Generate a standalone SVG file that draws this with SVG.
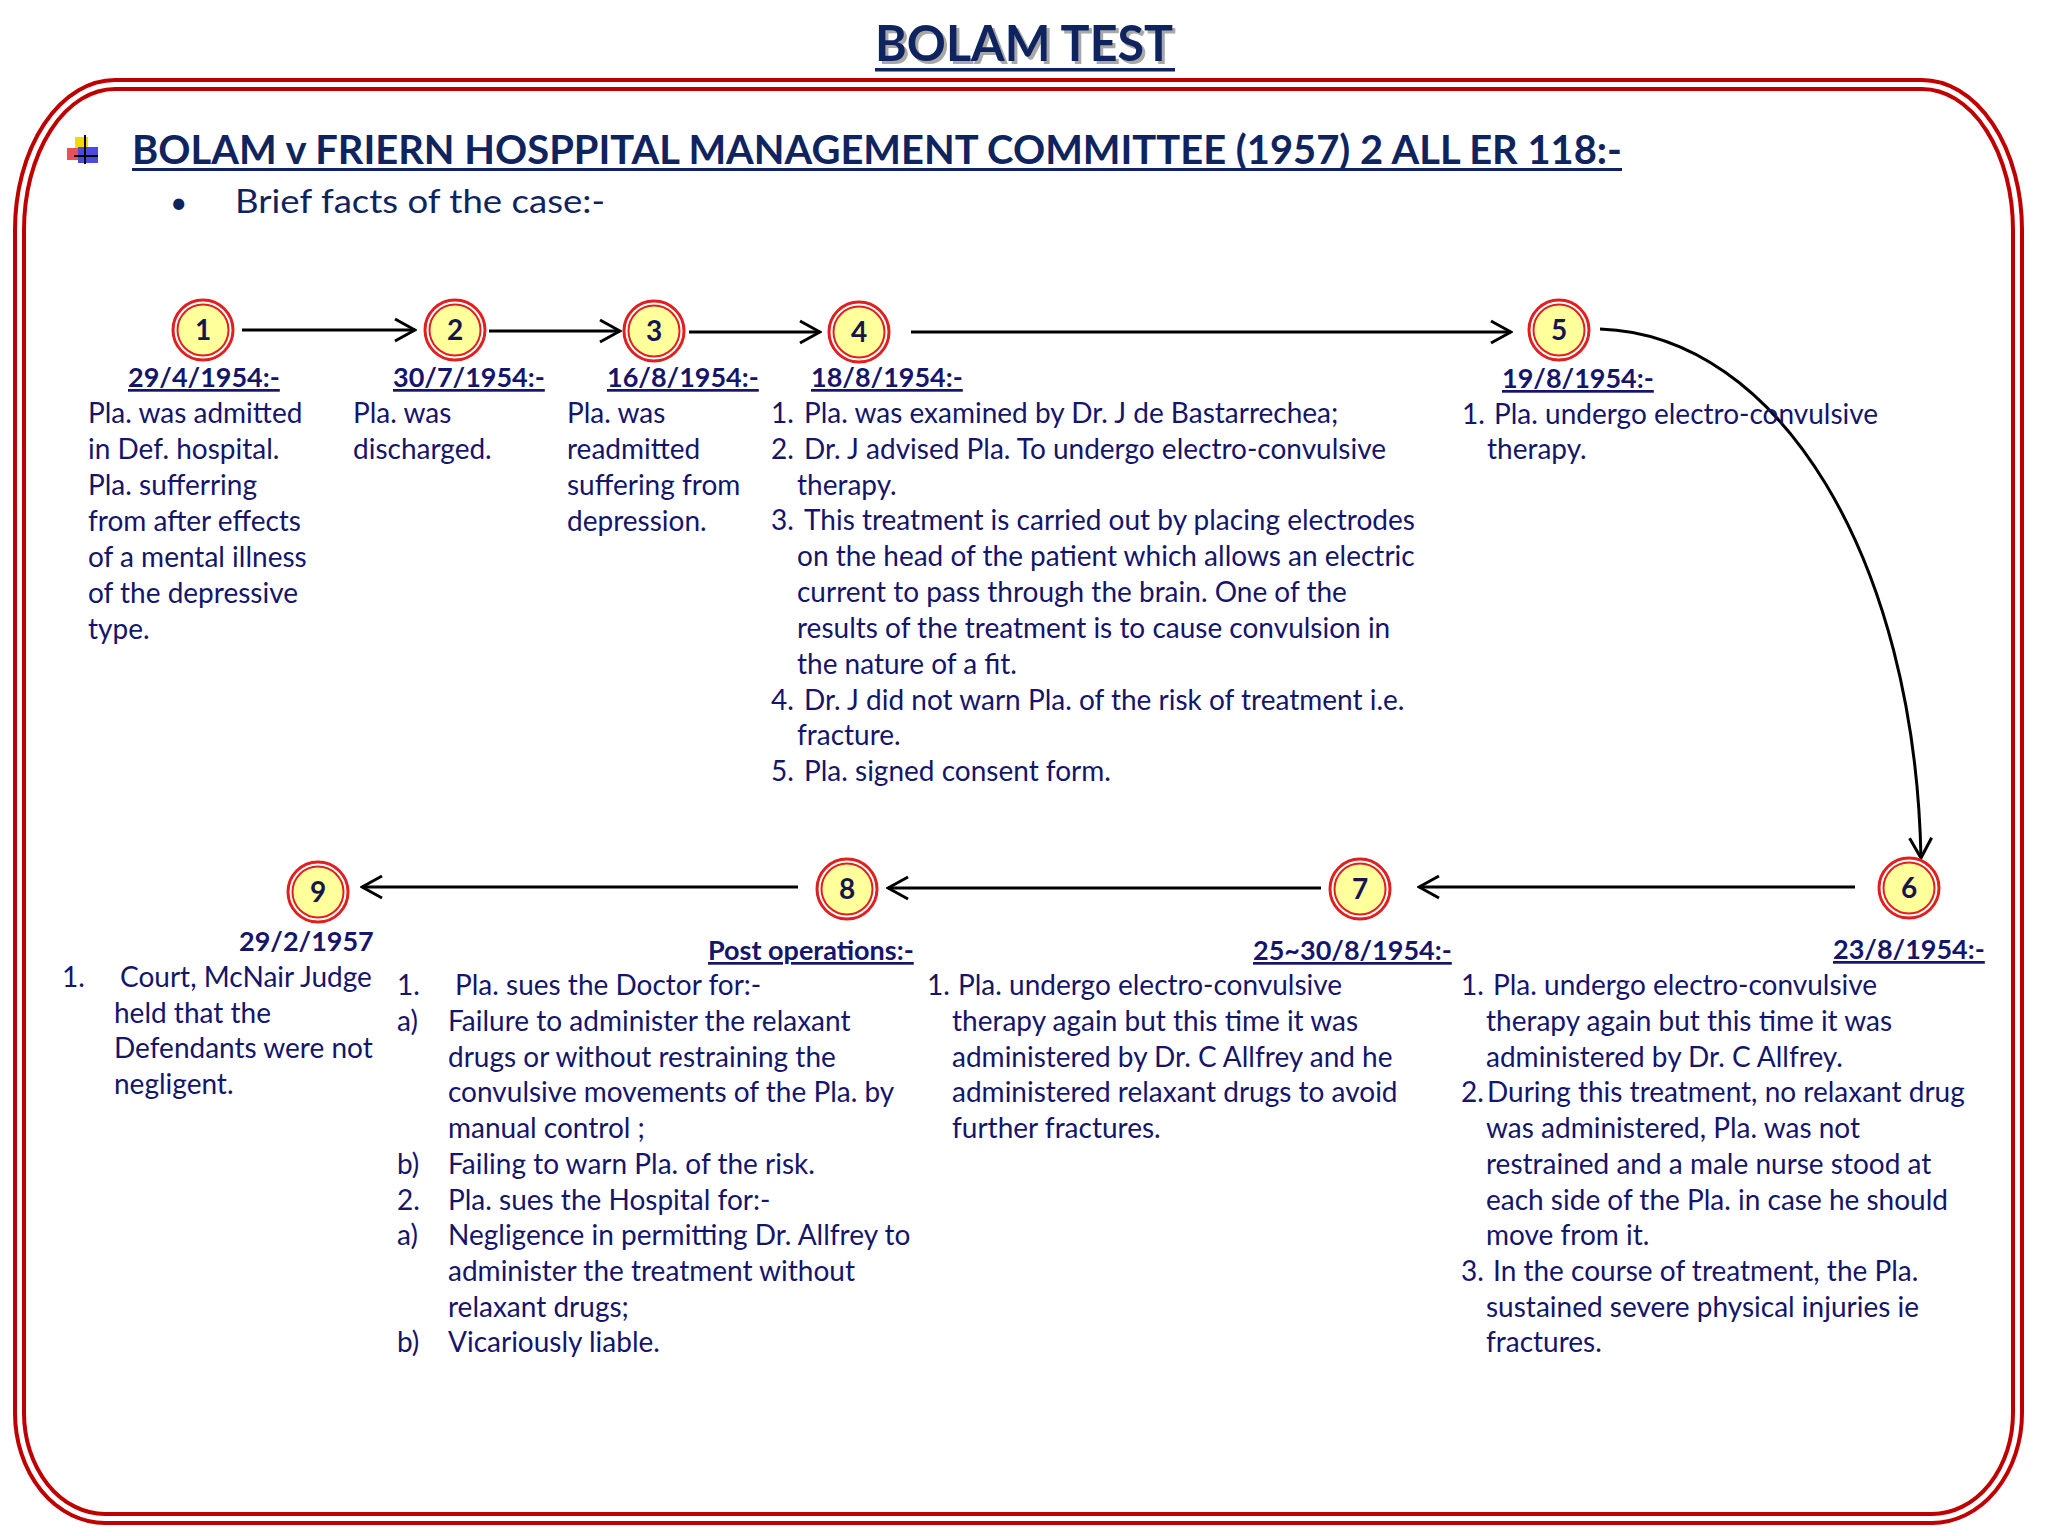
<svg xmlns="http://www.w3.org/2000/svg" width="2048" height="1536" viewBox="0 0 2048 1536">
<defs>
<style>
.t{font-family:Lato,'Liberation Sans',sans-serif;font-size:28px;fill:#15156B}
.d{font-weight:bold;font-size:27px;text-decoration:underline}
.db{font-weight:bold;font-size:27px}
.n{font-family:Lato,'Liberation Sans',sans-serif;font-weight:bold;font-size:28px;fill:#16164F;text-anchor:middle}
.ring{fill:#FFFFFF;stroke:#E21F1F;stroke-width:3}
.core{fill:#FFFF9C;stroke:#E21F1F;stroke-width:2}
.frame{fill:none;stroke:#C00000;stroke-width:4}
.conn{fill:none;stroke:#000000;stroke-width:3}
.hd{font-family:Lato,'Liberation Sans',sans-serif;fill:#0F245F}
</style>
<marker id="arr" viewBox="0 0 24 26" refX="22" refY="13" markerWidth="24" markerHeight="26" markerUnits="userSpaceOnUse" orient="auto">
<path d="M2,2 L22,13 L2,24" fill="none" stroke="#000" stroke-width="3"/>
</marker>
</defs>
<rect width="2048" height="1536" fill="#FFFFFF"/>

<g id="frame">
<path class="frame" d="M115,80 H1922 A100,150 0 0 1 2022,230 V1413 A90,110 0 0 1 1932,1523 H105 A90,110 0 0 1 15,1413 V230 A100,150 0 0 1 115,80 Z"/>
<path class="frame" d="M115,89 H1922 A91,141 0 0 1 2013,230 V1413 A81,101 0 0 1 1932,1514 H105 A81,101 0 0 1 24,1413 V230 A91,141 0 0 1 115,89 Z"/>
</g>

<g id="title">
<text x="1027" y="64" class="hd" font-size="50" font-weight="bold" text-anchor="middle" style="fill:#A8A8A8" textLength="298" lengthAdjust="spacingAndGlyphs">BOLAM TEST</text>
<text x="1024" y="61" class="hd" font-size="50" font-weight="bold" text-anchor="middle" textLength="298" lengthAdjust="spacingAndGlyphs">BOLAM TEST</text>
<rect x="875" y="68" width="300" height="3.5" fill="#0F245F"/>
</g>

<g id="heading">
<rect x="75" y="137" width="13" height="13" fill="#F5D800"/>
<rect x="67" y="148" width="12" height="12" fill="#E8505A"/>
<rect x="78" y="147" width="20" height="16" fill="#4A4AE0"/>
<line x1="85" y1="135" x2="85" y2="164" stroke="#000" stroke-width="2"/>
<line x1="74" y1="156" x2="98" y2="156" stroke="#000" stroke-width="2"/>
<text x="132" y="164" class="hd" font-size="40" font-weight="bold" textLength="1490" lengthAdjust="spacingAndGlyphs">BOLAM v FRIERN HOSPPITAL MANAGEMENT COMMITTEE (1957) 2 ALL ER 118:-</text>
<rect x="132" y="168" width="1490" height="3" fill="#0F245F"/>
<text x="170" y="213" class="hd" font-size="30">•</text>
<text x="235" y="213" class="hd" font-size="33" textLength="370" lengthAdjust="spacingAndGlyphs">Brief facts of the case:-</text>
</g>

<g id="connectors">
<path class="conn" marker-end="url(#arr)" d="M242,330 H415"/>
<path class="conn" marker-end="url(#arr)" d="M489,331 H620"/>
<path class="conn" marker-end="url(#arr)" d="M689,332 H820"/>
<path class="conn" marker-end="url(#arr)" d="M911,332 H1511"/>
<path class="conn" marker-end="url(#arr)" d="M1600,329 C1780,335 1915,560 1921,858"/>
<path class="conn" marker-end="url(#arr)" d="M1855,887 H1419"/>
<path class="conn" marker-end="url(#arr)" d="M1321,888 H888"/>
<path class="conn" marker-end="url(#arr)" d="M798,887 H362"/>
</g>

<g id="node1">
<circle class="ring" cx="203" cy="330" r="30"/><circle class="core" cx="203" cy="330" r="25.5"/>
<text class="n" x="203" y="340">1</text>
<text class="t d" x="128" y="387">29/4/1954:-</text>
<text class="t" x="88" y="423">Pla. was admitted</text>
<text class="t" x="88" y="459">in Def. hospital.</text>
<text class="t" x="88" y="495">Pla. sufferring</text>
<text class="t" x="88" y="531">from after effects</text>
<text class="t" x="88" y="567">of a mental illness</text>
<text class="t" x="88" y="603">of the depressive</text>
<text class="t" x="88" y="639">type.</text>
</g>

<g id="node2">
<circle class="ring" cx="455" cy="330" r="30"/><circle class="core" cx="455" cy="330" r="25.5"/>
<text class="n" x="455" y="340">2</text>
<text class="t d" x="393" y="387">30/7/1954:-</text>
<text class="t" x="353" y="423">Pla. was</text>
<text class="t" x="353" y="459">discharged.</text>
</g>

<g id="node3">
<circle class="ring" cx="654" cy="331" r="30"/><circle class="core" cx="654" cy="331" r="25.5"/>
<text class="n" x="654" y="341">3</text>
<text class="t d" x="607" y="387">16/8/1954:-</text>
<text class="t" x="567" y="423">Pla. was</text>
<text class="t" x="567" y="459">readmitted</text>
<text class="t" x="567" y="495">suffering from</text>
<text class="t" x="567" y="531">depression.</text>
</g>

<g id="node4">
<circle class="ring" cx="859" cy="332" r="30"/><circle class="core" cx="859" cy="332" r="25.5"/>
<text class="n" x="859" y="342">4</text>
<text class="t d" x="811" y="387">18/8/1954:-</text>
<text class="t" x="771" y="423">1.</text><text class="t" x="804" y="423">Pla. was examined by Dr. J de Bastarrechea;</text>
<text class="t" x="771" y="459">2.</text><text class="t" x="804" y="459">Dr. J advised Pla. To undergo electro-convulsive</text>
<text class="t" x="797" y="495">therapy.</text>
<text class="t" x="771" y="530">3.</text><text class="t" x="804" y="530">This treatment is carried out by placing electrodes</text>
<text class="t" x="797" y="566">on the head of the patient which allows an electric</text>
<text class="t" x="797" y="602">current to pass through the brain. One of the</text>
<text class="t" x="797" y="638">results of the treatment is to cause convulsion in</text>
<text class="t" x="797" y="674">the nature of a fit.</text>
<text class="t" x="771" y="710">4.</text><text class="t" x="804" y="710">Dr. J did not warn Pla. of the risk of treatment i.e.</text>
<text class="t" x="797" y="745">fracture.</text>
<text class="t" x="771" y="781">5.</text><text class="t" x="804" y="781">Pla. signed consent form.</text>
</g>

<g id="node5">
<circle class="ring" cx="1559" cy="330" r="30"/><circle class="core" cx="1559" cy="330" r="25.5"/>
<text class="n" x="1559" y="340">5</text>
<text class="t d" x="1502" y="388">19/8/1954:-</text>
<text class="t" x="1462" y="424">1.</text><text class="t" x="1494" y="424">Pla. undergo electro-convulsive</text>
<text class="t" x="1487" y="459">therapy.</text>
</g>

<g id="node6">
<circle class="ring" cx="1909" cy="888" r="30"/><circle class="core" cx="1909" cy="888" r="25.5"/>
<text class="n" x="1909" y="898">6</text>
<text class="t d" x="1833" y="959">23/8/1954:-</text>
<text class="t" x="1461" y="995">1.</text><text class="t" x="1493" y="995">Pla. undergo electro-convulsive</text>
<text class="t" x="1486" y="1031">therapy again but this time it was</text>
<text class="t" x="1486" y="1067">administered by Dr. C Allfrey.</text>
<text class="t" x="1461" y="1102">2.</text><text class="t" x="1487" y="1102">During this treatment, no relaxant drug</text>
<text class="t" x="1486" y="1138">was administered, Pla. was not</text>
<text class="t" x="1486" y="1174">restrained and a male nurse stood at</text>
<text class="t" x="1486" y="1210">each side of the Pla. in case he should</text>
<text class="t" x="1486" y="1245">move from it.</text>
<text class="t" x="1461" y="1281">3.</text><text class="t" x="1493" y="1281">In the course of treatment, the Pla.</text>
<text class="t" x="1486" y="1317">sustained severe physical injuries ie</text>
<text class="t" x="1486" y="1352">fractures.</text>
</g>

<g id="node7">
<circle class="ring" cx="1360" cy="889" r="30"/><circle class="core" cx="1360" cy="889" r="25.5"/>
<text class="n" x="1360" y="899">7</text>
<text class="t d" x="1253" y="960">25~30/8/1954:-</text>
<text class="t" x="927" y="995">1.</text><text class="t" x="958" y="995">Pla. undergo electro-convulsive</text>
<text class="t" x="952" y="1031">therapy again but this time it was</text>
<text class="t" x="952" y="1067">administered by Dr. C Allfrey and he</text>
<text class="t" x="952" y="1102">administered relaxant drugs to avoid</text>
<text class="t" x="952" y="1138">further fractures.</text>
</g>

<g id="node8">
<circle class="ring" cx="847" cy="889" r="30"/><circle class="core" cx="847" cy="889" r="25.5"/>
<text class="n" x="847" y="899">8</text>
<text class="t d" x="708" y="960">Post operations:-</text>
<text class="t" x="397" y="995">1.</text><text class="t" x="455" y="995">Pla. sues the Doctor for:-</text>
<text class="t" x="397" y="1031">a)</text><text class="t" x="448" y="1031">Failure to administer the relaxant</text>
<text class="t" x="448" y="1067">drugs or without restraining the</text>
<text class="t" x="448" y="1102">convulsive movements of the Pla. by</text>
<text class="t" x="448" y="1138">manual control ;</text>
<text class="t" x="397" y="1174">b)</text><text class="t" x="448" y="1174">Failing to warn Pla. of the risk.</text>
<text class="t" x="397" y="1210">2.</text><text class="t" x="448" y="1210">Pla. sues the Hospital for:-</text>
<text class="t" x="397" y="1245">a)</text><text class="t" x="448" y="1245">Negligence in permitting Dr. Allfrey to</text>
<text class="t" x="448" y="1281">administer the treatment without</text>
<text class="t" x="448" y="1317">relaxant drugs;</text>
<text class="t" x="397" y="1352">b)</text><text class="t" x="448" y="1352">Vicariously liable.</text>
</g>

<g id="node9">
<circle class="ring" cx="318" cy="892" r="30"/><circle class="core" cx="318" cy="892" r="25.5"/>
<text class="n" x="318" y="902">9</text>
<text class="t db" x="239" y="951">29/2/1957</text>
<text class="t" x="62" y="987">1.</text><text class="t" x="120" y="987">Court, McNair Judge</text>
<text class="t" x="114" y="1023">held that the</text>
<text class="t" x="114" y="1058">Defendants were not</text>
<text class="t" x="114" y="1094">negligent.</text>
</g>
</svg>
